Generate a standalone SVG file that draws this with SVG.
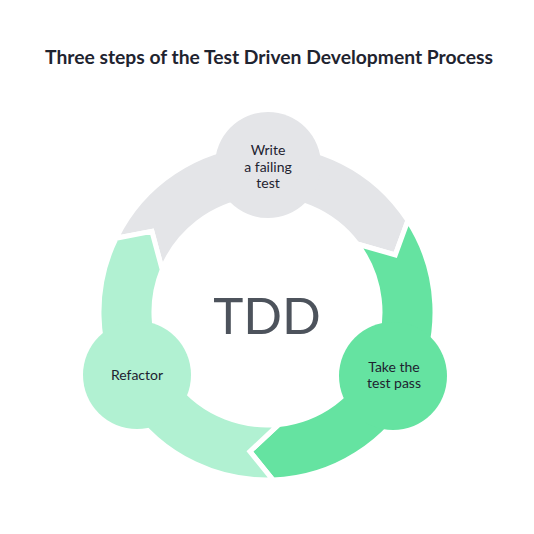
<svg xmlns="http://www.w3.org/2000/svg" width="534" height="534" viewBox="0 0 534 534">
  <style>
    .seg { stroke: #ffffff; stroke-width: 5; stroke-linejoin: miter; }
    .gray { fill: #e4e5e8; }
    .lgreen { fill: #b1f1d2; }
    .green { fill: #65e3a1; }
    .lbl { font-family: Lato, "Liberation Sans", sans-serif; font-size: 14px; fill: #1e2330; text-anchor: middle; }
    .title { font-family: Lato, "Liberation Sans", sans-serif; font-size: 19.3px; font-weight: 700; fill: #1f2430; text-anchor: middle; }
    .big { font-family: Lato, "Liberation Sans", sans-serif; font-size: 51px; fill: #4d535c; text-anchor: middle; }
  </style>
  <rect width="534" height="534" fill="#ffffff"/>
  <text class="title" x="269" y="64">Three steps of the Test Driven Development Process</text>
  <g id="connectors">
    <path class="seg gray" d="M 116.0,238.3 A 168 168 0 0 1 407.9,220.5 L 395.3,254.9 L 357.2,244.0 A 113 113 0 0 0 162.2,269.7 L 151.9,231.4 Z"/>
    <path class="seg green" d="M 407.9,220.5 A 168 168 0 0 1 272.9,479.9 L 249.9,451.4 L 278.8,424.4 A 113 113 0 0 0 357.2,244.0 L 395.3,254.9 Z"/>
    <path class="seg lgreen" d="M 272.9,479.9 A 168 168 0 0 1 116.0,238.3 L 151.9,231.4 L 162.2,269.7 A 113 113 0 0 0 278.8,424.4 L 249.9,451.4 Z"/>
  </g>
  <g id="node-write">
    <circle class="gray" cx="268" cy="165" r="53"/>
    <text class="lbl" x="268" y="155">Write</text>
    <text class="lbl" x="268" y="172">a failing</text>
    <text class="lbl" x="268" y="188">test</text>
  </g>
  <g id="node-refactor">
    <circle class="lgreen" cx="137" cy="375" r="54"/>
    <text class="lbl" x="137" y="380">Refactor</text>
  </g>
  <g id="node-pass">
    <circle class="green" cx="393" cy="376" r="54"/>
    <text class="lbl" x="394" y="372">Take the</text>
    <text class="lbl" x="394" y="388">test pass</text>
  </g>
  <g id="center">
    <text class="big" x="267" y="334">TDD</text>
  </g>
</svg>
